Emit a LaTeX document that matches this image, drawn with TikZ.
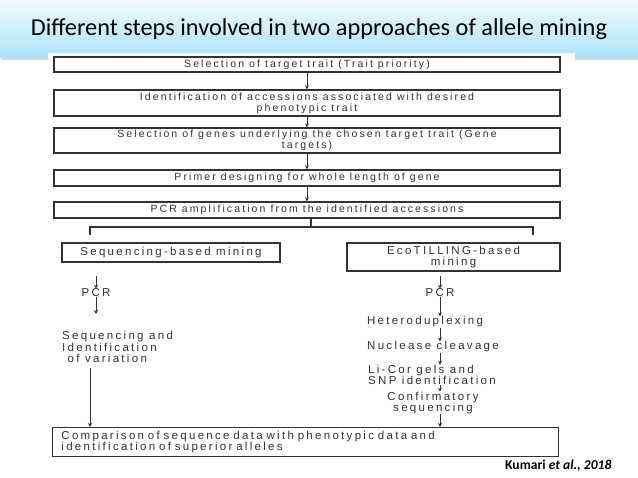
\documentclass[tikz,border=0pt]{standalone}
\usepackage{fontspec}
\setmainfont{Liberation Sans}[LetterSpace=20]
\newfontfamily\titlefont{Carlito}
\newfontfamily\credfont{Carlito}
\usetikzlibrary{arrows.meta,shadows}
\definecolor{ink}{HTML}{333333}
\definecolor{bannertop}{HTML}{F2FBFF}
\definecolor{bannerbot}{HTML}{A9E3F7}
\begin{document}
\begin{tikzpicture}[x=1pt,y=-1pt,
  box/.style={draw=ink,line width=1.2pt,text=ink,font=\fontsize{10.5}{11}\selectfont,align=center,inner sep=1pt},
  big/.style={font=\fontsize{11.5}{11.5}\selectfont},
  lbl/.style={text=ink,font=\fontsize{11.5}{11.5}\selectfont,align=left,inner sep=0pt},
  arr/.style={draw=ink,line width=1pt,-{Stealth[length=4pt,width=4pt]}},
  ln/.style={draw=ink,line width=1.2pt}]
\useasboundingbox (0,0) rectangle (638,478);
\fill[white] (0,0) rectangle (638,478);
\shade[top color=bannertop,bottom color=bannerbot,drop shadow={shadow xshift=1pt,shadow yshift=-2pt,opacity=0.3}] (0,0) rectangle (638,58);
\fill[white] (48,53) rectangle (575,478);
\node[font=\titlefont\fontsize{24.3}{26}\selectfont,text=black] (title) at (319,29) {Different steps involved in two approaches of allele mining};
\node[box,minimum width=506pt,minimum height=15pt] (b1) at (307,64.5) {Selection of target trait (Trait priority)};
\node[box,minimum width=506pt,minimum height=26pt] (b2) at (307,103) {Identification of accessions associated with desired\\phenotypic trait};
\node[box,minimum width=506pt,minimum height=25pt] (b3) at (307,140.5) {Selection of genes underlying the chosen target trait (Gene\\targets)};
\node[box,minimum width=506pt,minimum height=16pt] (b4) at (307,178) {Primer designing for whole length of gene};
\node[box,minimum width=506pt,minimum height=16pt] (b5) at (307,210) {PCR amplification from the identified accessions};
\draw[arr] (b1) -- (b2);
\draw[arr] (b2) -- (b3);
\draw[arr] (b3) -- (b4);
\draw[arr] (b4) -- (b5);
\coordinate (bm) at (311,227);
\coordinate (bl) at (90,227);
\coordinate (br) at (533,227);
\draw[ln] (b5.south -| bm) -- (bm);
\draw[ln] (bl) ++(0,8) coordinate (bl2) -- (bl) -- (br) -- ++(0,8) coordinate (br2);
\node[box,big,minimum width=218pt,minimum height=19pt] (s1) at (171,252.5) {Sequencing-based mining};
\node[box,big,minimum width=213pt,minimum height=28pt] (e1) at (453.5,257) {EcoTILLING-based\\mining};
\node[lbl] (s2) at (96,293) {PCR};
\node[lbl,anchor=north west] (s3) at (62,331) {Sequencing and\\Identification\\\ of variation};
\draw[arr] (96,276) -- (s2);
\draw[arr] (s2) -- (96,314);
\node[lbl] (e2) at (440,293) {PCR};
\node[lbl] (e3) at (425,322) {Heteroduplexing};
\node[lbl] (e4) at (433,347) {Nuclease cleavage};
\node[lbl,anchor=west] (e5) at (368,375) {Li-Cor gels and\\SNP identification};
\node[lbl,align=center] (e6) at (433,403) {Confirmatory\\sequencing};
\node[box,big,anchor=north west,align=left,minimum width=506pt,minimum height=29pt,text width=496pt] (f) at (52,427) {\ Comparison of sequence data with phenotypic data and\\\ identification of superior alleles};
\coordinate (ra) at (440,0);
\draw[arr] (440,276) -- (e2);
\draw[arr] (e2) -- (e3.north -| ra);
\draw[arr] (e3.south -| ra) -- (e4.north -| ra);
\draw[arr] (e4.south -| ra) -- (e5.north -| ra);
\draw[arr] (e5.south -| ra) -- (e6.north -| ra);
\draw[arr] (e6.south -| ra) -- (f.north -| ra);
\draw[arr] (90,368) -- (f.north -| 90,0);
\node[font=\credfont\fontsize{13.6}{15}\selectfont\bfseries,anchor=east] (cred) at (615,466) {Kumari \textit{et al., 2018}};
\end{tikzpicture}
\end{document}
